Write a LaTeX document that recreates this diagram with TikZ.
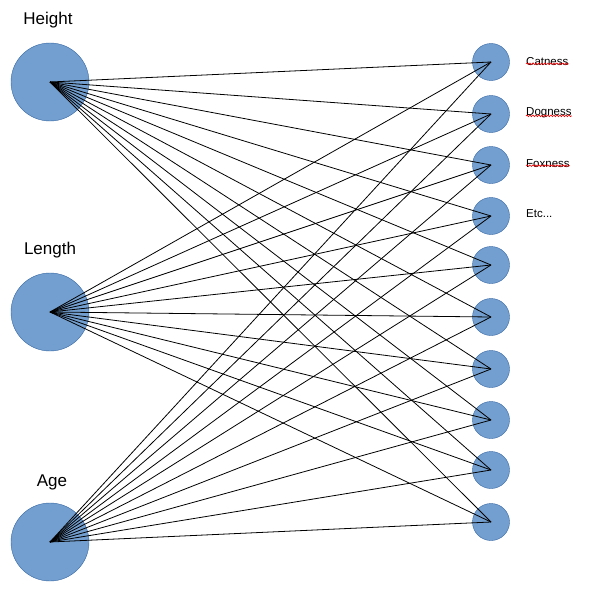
\documentclass[tikz,border=0pt]{standalone}
\usepackage{fontspec}
\setmainfont{Liberation Sans}
\usetikzlibrary{decorations.pathmorphing}
\definecolor{nfill}{HTML}{729FCF}
\definecolor{nline}{HTML}{3465A4}
\tikzset{
  big/.style={circle,fill=nfill,draw=nline,minimum size=78pt,inner sep=0pt},
  small/.style={circle,fill=nfill,draw=nline,minimum size=37pt,inner sep=0pt},
  conn/.style={black,line width=0.8pt},
  lbl/.style={font=\fontsize{17}{20}\selectfont},
  rlbl/.style={font=\fontsize{11.5}{14}\selectfont,anchor=west,inner sep=0pt},
  wavy/.style={red,line width=0.6pt,decorate,decoration={snake,amplitude=0.8pt,segment length=3pt}}
}
\begin{document}
\begin{tikzpicture}[x=1pt,y=-1pt]
\useasboundingbox (0,0) rectangle (613,602);
\node[big] (h) at (50,82) {};
\node[big] (l) at (50,312) {};
\node[big] (a) at (50,542) {};
\foreach \i/\y in {1/62,2/114,3/165,4/216,5/265,6/317,7/369,8/420,9/470,10/522}
  \node[small] (r\i) at (491,\y) {};
\foreach \s in {h,l,a}
  \foreach \i in {1,...,10}
    \draw[conn] (\s.center) -- (r\i.center);
\node[lbl] (th) at (48,20) {Height};
\node[lbl] (tl) at (50,250) {Length};
\node[lbl] (ta) at (52,482) {Age};
\node[rlbl] (c1) at (526,62) {Catness};
\node[rlbl] (c2) at (526,113) {Dogness};
\node[rlbl] (c3) at (526,164) {Foxness};
\node[rlbl] (c4) at (526,214) {Etc...};
\foreach \c in {c1,c2,c3}
  \draw[wavy] ([yshift=2.5pt]\c.south west) -- ([yshift=2.5pt]\c.south east);
\end{tikzpicture}
\end{document}
